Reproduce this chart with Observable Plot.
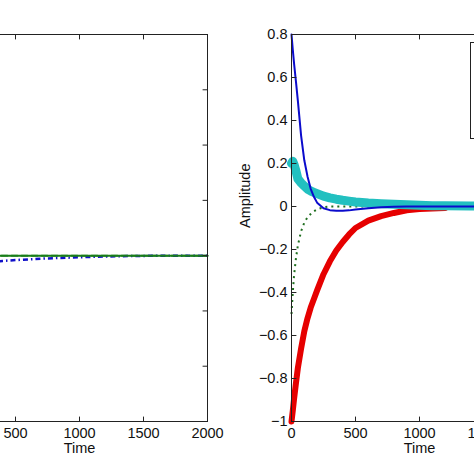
<!DOCTYPE html>
<html>
<head>
<meta charset="utf-8">
<script src="https://cdn.jsdelivr.net/npm/d3@7"></script>
<script src="https://cdn.jsdelivr.net/npm/@observablehq/plot@0.6"></script>
<style>
  html, body { margin: 0; padding: 0; background: #fff; }
  #fig { position: relative; width: 474px; height: 474px; overflow: hidden; background: #fff; }
  #fig > svg, #fig > figure { position: absolute; top: 0; margin: 0; }
  #legend { position: absolute; left: 470px; top: 42px; width: 80px; height: 95px; border: 1px solid #222; background: #fff; }
</style>
</head>
<body>
<div id="fig"></div>
<script>
// ---------- data ----------
// right panel (Amplitude vs Time)
const timeR = [0, 10, 20, 35, 50, 75, 100, 125, 150, 175, 200, 250, 300, 350, 400, 450, 500, 600, 700, 800, 900, 1000, 1100, 1200, 1400, 1600, 1800, 2000];
const blueR = [0.8, 0.73, 0.665, 0.58, 0.49, 0.33, 0.215, 0.14, 0.082, 0.045, 0.018, -0.008, -0.017, -0.02, -0.02, -0.018, -0.014, -0.008, -0.003, -0.001, 0, 0, 0, 0, 0, 0, 0, 0];
const cyanR = [0.2, 0.21, 0.195, 0.165, 0.128, 0.11, 0.095, 0.081, 0.072, 0.066, 0.06, 0.048, 0.04, 0.034, 0.029, 0.025, 0.021, 0.016, 0.013, 0.01, 0.008, 0.006, 0.004, 0.003, 0.002, 0.001, 0, 0];
const redR = [-1, -0.95, -0.895, -0.82, -0.75, -0.66, -0.58, -0.52, -0.47, -0.43, -0.39, -0.315, -0.255, -0.205, -0.165, -0.13, -0.1, -0.066, -0.045, -0.03, -0.018, -0.012, -0.009, -0.007, null, null, null, null];
const greenR = [-0.5, -0.4, -0.32, -0.24, -0.18, -0.115, -0.075, -0.05, -0.035, -0.022, -0.013, -0.004, 0, 0, 0, 0, 0, 0, 0, 0, 0, 0, 0, 0, 0, 0, 0, 0];

// left panel
const timeL = [0, 100, 200, 300, 400, 500, 600, 700, 800, 900, 1000, 1200, 1400, 1600, 1800, 2000];
const blueL = [-0.08, -0.05, -0.035, -0.025, -0.019, -0.016, -0.0135, -0.011, -0.009, -0.0075, -0.006, -0.003, -0.0015, -0.0005, 0, 0];
const greenSolidL = [0, 0, 0, 0, 0, 0, 0, 0, 0, 0, 0, 0, 0, 0, 0, 0];
const greenDashL = [0, 0, 0, 0, 0, 0, 0, 0, 0, 0, 0, 0, 0, 0, 0, 0];

// ticks
const xTicks = [0, 500, 1000, 1500, 2000];
const yTicksR = [-1, -0.8, -0.6, -0.4, -0.2, 0, 0.2, 0.4, 0.6, 0.8];
const yTicksL = [-0.6, -0.4, -0.2, 0, 0.2, 0.4, 0.6, 0.8];
const xLabel = "Time";
const yLabelR = "Amplitude";

// ---------- helpers ----------
const table = (t, v) => t.map((d, i) => ({t: d, v: v[i]})).filter(d => d.v !== null);
const fmtY = d => {
  const a = +Math.abs(d).toFixed(1);
  return (d < -1e-9 ? "\u2212" : "") + String(a);
};
const fmtX = d => String(d);
const INK = "#222";
const FS = 14.5;
const tickShape = {draw(context, l) { context.moveTo(0, 0); context.lineTo(0, -l); }};
function frameTicks(xt, yt) {
  const o = {anchor: "start", length: 4.5, shape: tickShape, stroke: INK, strokeWidth: 1};
  return [
    Plot.vector(xt, {...o, x: d => d, frameAnchor: "bottom", rotate: 0}),
    Plot.vector(xt, {...o, x: d => d, frameAnchor: "top", rotate: 180}),
    Plot.vector(yt, {...o, y: d => d, frameAnchor: "left", rotate: 90}),
    Plot.vector(yt, {...o, y: d => d, frameAnchor: "right", rotate: -90})
  ];
}
const style = {fontFamily: "'Liberation Sans', Arial, Helvetica, sans-serif", fontSize: FS + "px", color: "#111", background: "transparent", overflow: "visible"};
const txt = {fontSize: FS, fill: "#111"};

// ---------- left panel ----------
const left = Plot.plot({
  width: 306, height: 474,
  marginLeft: 40, marginRight: 10, marginTop: 34, marginBottom: 53,
  style,
  x: {domain: [0, 2000]},
  y: {domain: [-0.6, 0.8]},
  marks: [
    Plot.line(table(timeL, greenDashL), {x: "t", y: "v", stroke: "#3a9a3a", strokeWidth: 2, strokeDasharray: "6,4"}),
    Plot.line(table(timeL, blueL), {x: "t", y: "v", stroke: "#1010c8", strokeWidth: 2.5, strokeDasharray: "5,3,1.5,3", strokeLinecap: "butt"}),
    Plot.line(table(timeL, greenSolidL), {x: "t", y: "v", stroke: "#1a7d1a", strokeWidth: 2}),
    Plot.frame({stroke: INK, strokeWidth: 1}),
    ...frameTicks(xTicks, yTicksL),
    Plot.axisX(xTicks, {...txt, tickSize: 0, tickPadding: 6, tickFormat: fmtX, label: null}),
    Plot.axisY(yTicksL, {...txt, tickSize: 0, tickPadding: 4, tickFormat: fmtY, label: null}),
    Plot.text([xLabel], {...txt, frameAnchor: "bottom", dy: 31})
  ]
});
left.style.left = "-89px";

// ---------- right panel ----------
const right = Plot.plot({
  width: 336, height: 474,
  marginLeft: 60, marginRight: 20, marginTop: 34, marginBottom: 53,
  style,
  x: {domain: [0, 2000]},
  y: {domain: [-1, 0.8]},
  marks: [
    Plot.line(table(timeR, redR), {x: "t", y: "v", stroke: "#e60000", strokeWidth: 6}),
    Plot.line(table(timeR, greenR), {x: "t", y: "v", stroke: "#1f6e1f", strokeWidth: 2, strokeDasharray: "2,4", strokeLinecap: "butt"}),
    Plot.line(table(timeR, cyanR), {x: "t", y: "v", stroke: "#22c0c0", strokeWidth: 9}),
    Plot.line(table(timeR, blueR), {x: "t", y: "v", stroke: "#0b0bcc", strokeWidth: 2}),
    Plot.frame({stroke: INK, strokeWidth: 1}),
    ...frameTicks(xTicks, yTicksR),
    Plot.axisX(xTicks, {...txt, tickSize: 0, tickPadding: 6, tickFormat: fmtX, label: null}),
    Plot.axisY(yTicksR, {...txt, tickSize: 0, tickPadding: 4, tickFormat: fmtY, label: null}),
    Plot.text([xLabel], {...txt, frameAnchor: "bottom", dy: 31}),
    Plot.text([yLabelR], {...txt, frameAnchor: "left", rotate: -90, dx: -46})
  ]
});
right.style.left = "231px";

const fig = document.getElementById("fig");
fig.appendChild(left);
fig.appendChild(right);
const legend = document.createElement("div");
legend.id = "legend";
fig.appendChild(legend);
</script>
</body>
</html>
